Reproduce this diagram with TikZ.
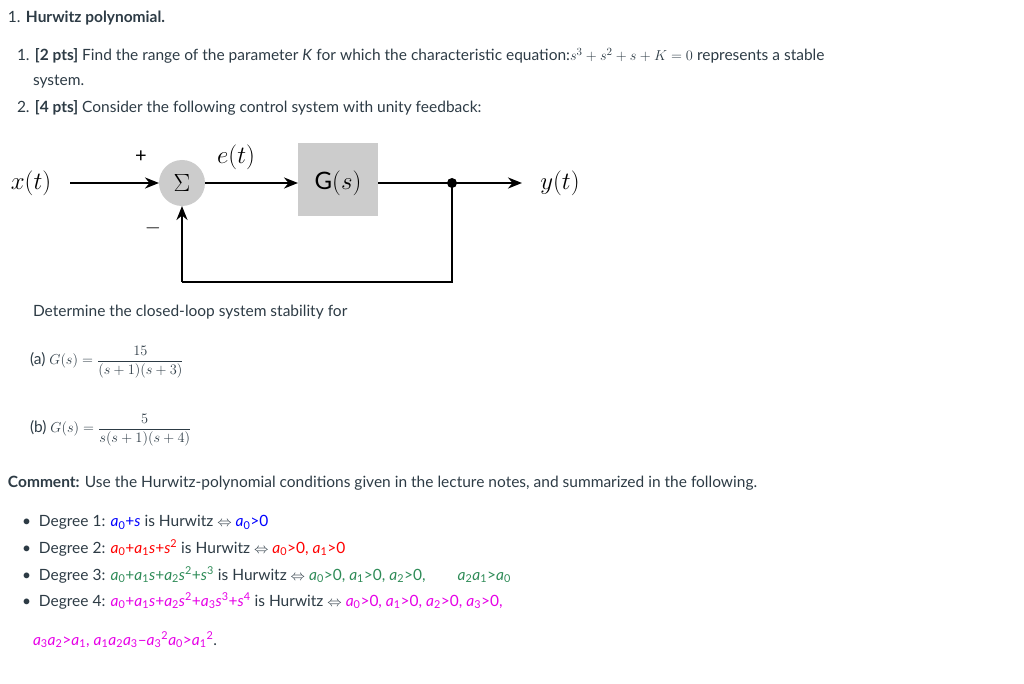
\documentclass[tikz,border=0pt]{standalone}
\usepackage{fontspec}
\setmainfont{Lato}
\usepackage{amsmath}
\usetikzlibrary{arrows.meta}
\definecolor{txt}{RGB}{45,59,69}
\definecolor{gr}{RGB}{46,139,87}
\definecolor{mg}{RGB}{230,0,230}
\definecolor{bx}{RGB}{204,204,204}
\newcommand{\acoef}[1]{\textit{a}\textsubscript{#1}}
\newcommand{\ssup}[1]{\textit{s}\textsuperscript{#1}}
\begin{document}
\begin{tikzpicture}[x=1pt,y=-1pt,
  every node/.style={inner sep=0pt,outer sep=0pt,text=txt,font=\fontsize{15.5}{18}\selectfont},
  tl/.style={anchor=west},
  dg/.style={font=\fontsize{24}{26}\selectfont\rmfamily,text=black},
  sig/.style={line width=2.2pt,-{Stealth[length=14pt,width=11pt]}},
  wire/.style={line width=2.2pt}]
\useasboundingbox (0,0) rectangle (1024,684);
\node[tl] (t0) at (8,18) {1. \textbf{Hurwitz polynomial.}};
\node[tl] (i1) at (17,56) {1. \textbf{[2 pts]} Find the range of the parameter \textit{K} for which the characteristic equation:$s^3+s^2+s+K=0$ represents a stable};
\node[tl] (i1b) at (33,82) {system.};
\node[tl] (i2) at (17,108) {2. \textbf{[4 pts]} Consider the following control system with unity feedback:};
% diagram
\node[dg] (x) at (31,183) {$x(t)$};
\node[circle,fill=bx,minimum size=46pt] (sum) at (182,183) {};
\node[dg] at (sum) {$\Sigma$};
\node[dg,font=\fontsize{20}{22}\selectfont] (plus) at (141,157) {+};
\node[dg] (e) at (236,157) {$e(t)$};
\node[fill=bx,minimum width=80pt,minimum height=73pt] (G) at (338,180) {};
\node[dg] at (338,183) {G$(s)$};
\coordinate (dot) at (452,183);
\fill (dot) circle (5pt);
\node[dg] (y) at (560,183) {$y(t)$};
\node[dg,font=\fontsize{20}{22}\selectfont] (minus) at (153,228) {$-$};
\coordinate (c1) at (452,282);
\coordinate (c2) at (182,282);
\draw[sig] (70,183) -- (sum.west);
\draw[sig] (sum.east) -- (G.west|-sum);
\draw[wire] (G.east|-sum) -- (dot);
\draw[sig] (dot) -- (522,183);
\draw[wire] (dot) -- (c1) -- (c2);
\draw[sig] (c2) -- (sum.south);
\node[tl] (det) at (33,312) {Determine the closed-loop system stability for};
\node[tl] (a) at (30,362) {(a) $G(s)=\dfrac{15}{(s+1)(s+3)}$};
\node[tl] (b) at (30,430) {(b) $G(s)=\dfrac{5}{s(s+1)(s+4)}$};
\node[tl] (com) at (8,483) {\textbf{Comment:} Use the Hurwitz-polynomial conditions given in the lecture notes, and summarized in the following.};
\node[tl] (d1) at (22,522) {\textbullet\ \ Degree 1: \textcolor{blue}{\acoef0+\textit{s}} is Hurwitz $\Leftrightarrow$ \textcolor{blue}{\acoef0>0}};
\node[tl] (d2) at (22,548) {\textbullet\ \ Degree 2: \textcolor{red}{\acoef0+\acoef1\textit{s}+\ssup2} is Hurwitz $\Leftrightarrow$ \textcolor{red}{\acoef0>0, \acoef1>0}};
\node[tl] (d3) at (22,575) {\textbullet\ \ Degree 3: \textcolor{gr}{\acoef0+\acoef1\textit{s}+\acoef2\ssup2+\ssup3} is Hurwitz $\Leftrightarrow$ \textcolor{gr}{\acoef0>0, \acoef1>0, \acoef2>0,\hspace{32pt}\acoef2\acoef1>\acoef0}};
\node[tl] (d4) at (22,601) {\textbullet\ \ Degree 4: \textcolor{mg}{\acoef0+\acoef1\textit{s}+\acoef2\ssup2+\acoef3\ssup3+\ssup4} is Hurwitz $\Leftrightarrow$ \textcolor{mg}{\acoef0>0, \acoef1>0, \acoef2>0, \acoef3>0,}};
\node[tl] (d4b) at (33,640) {\textcolor{mg}{\acoef3\acoef2>\acoef1, \acoef1\acoef2\acoef3\textendash\acoef3\textsuperscript{2}\acoef0>\acoef1\textsuperscript{2}}.};
\end{tikzpicture}
\end{document}
